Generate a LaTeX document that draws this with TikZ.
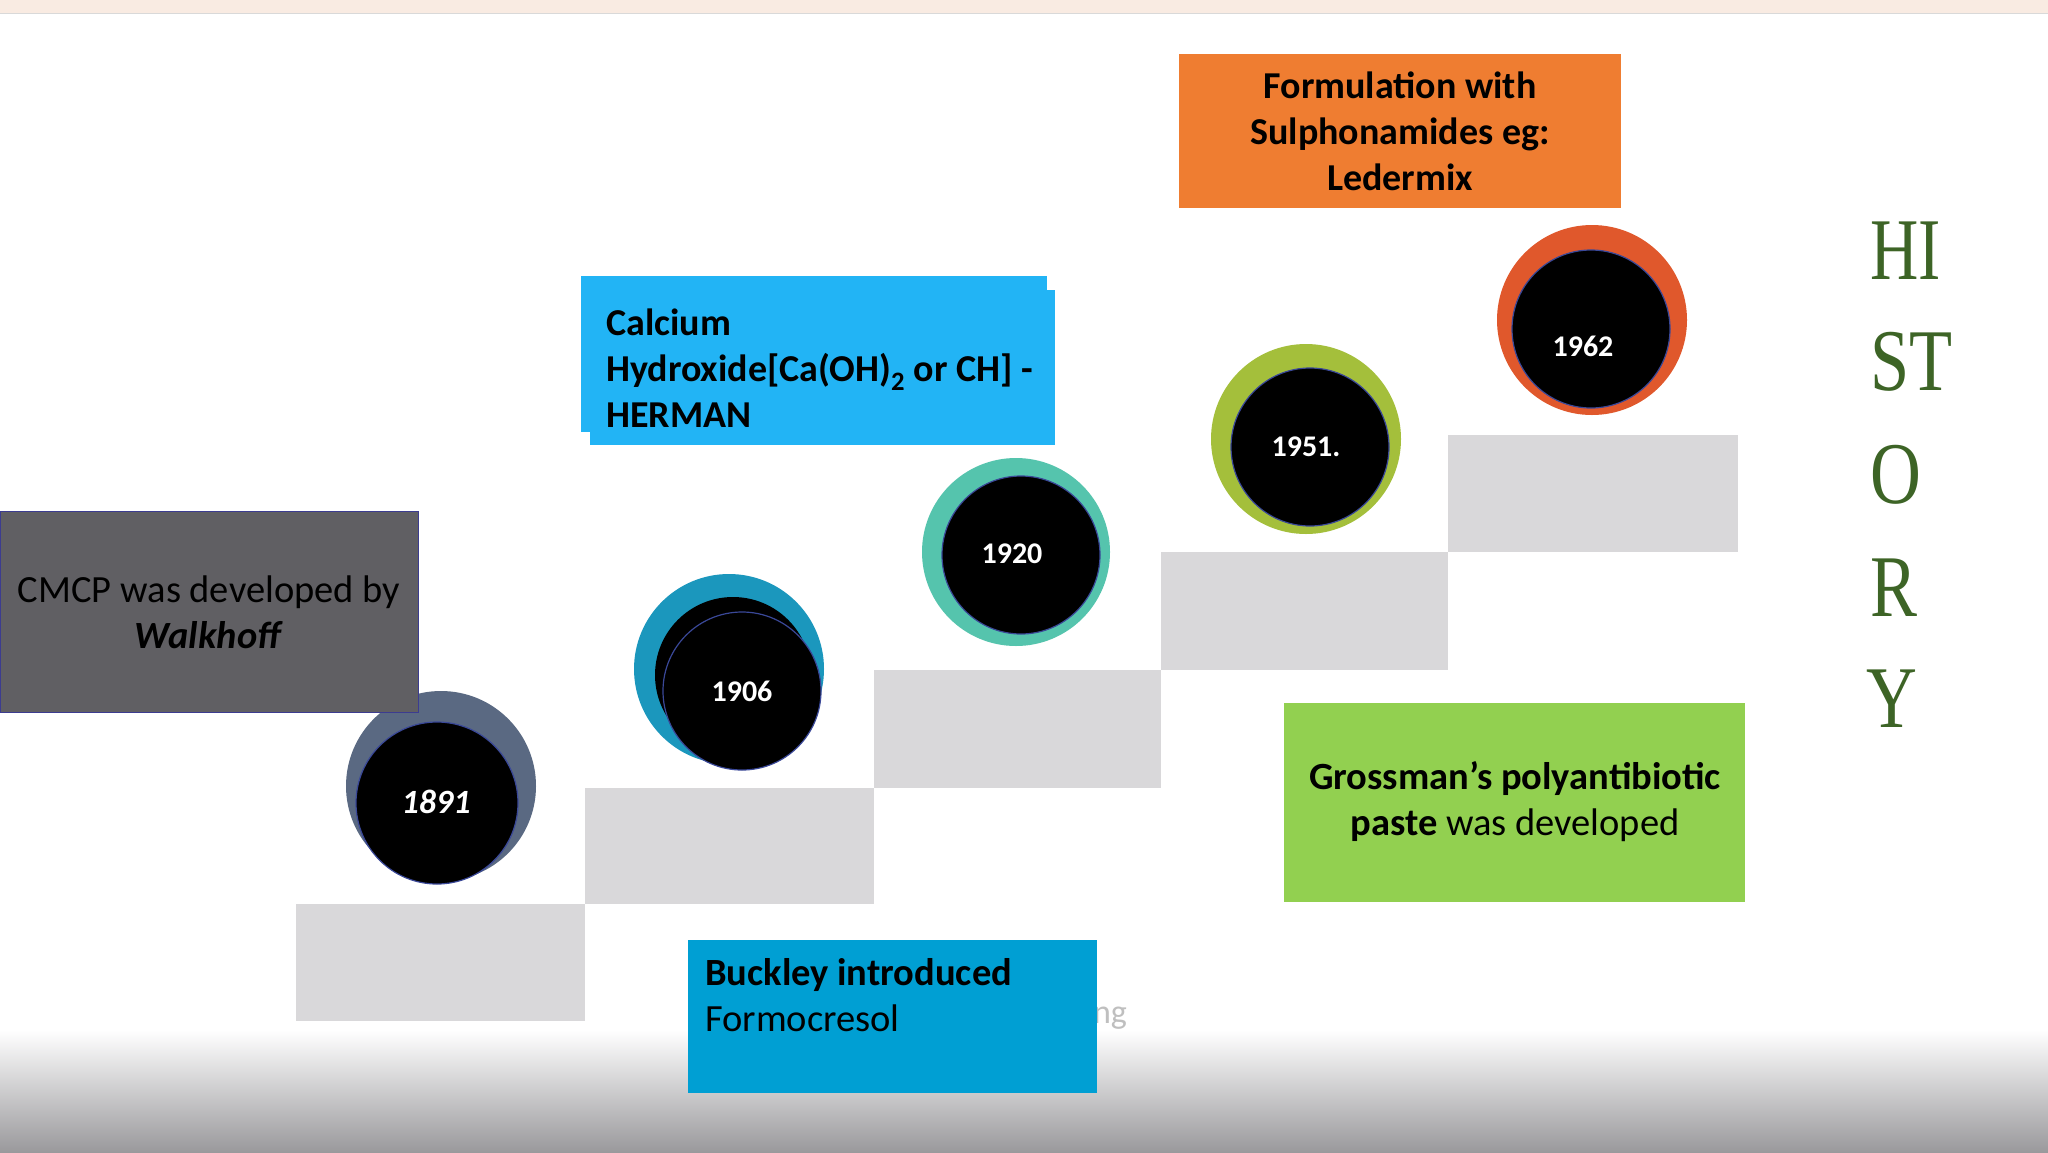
\documentclass[tikz,border=0pt]{standalone}
\usepackage{fontspec}
\setmainfont{Carlito}
\newfontfamily\histfont{Liberation Serif}
\definecolor{topstrip}{HTML}{F9EBE2}
\definecolor{stepgrey}{HTML}{D9D8DA}
\definecolor{midgrey}{HTML}{D4D4D5}
\definecolor{bottomgrey}{HTML}{9A999C}
\definecolor{discedge}{HTML}{3A4898}
\definecolor{ringslate}{HTML}{5A6982}
\definecolor{ringteal}{HTML}{1B97BD}
\definecolor{ringaqua}{HTML}{55C4AD}
\definecolor{ringlime}{HTML}{A4BF3B}
\definecolor{ringorange}{HTML}{E0582C}
\definecolor{cmcpgrey}{HTML}{605F63}
\definecolor{cmcpedge}{HTML}{3C3C90}
\definecolor{skyblue}{HTML}{22B4F5}
\definecolor{orangebox}{HTML}{EF7D31}
\definecolor{greenbox}{HTML}{92D050}
\definecolor{deepblue}{HTML}{009FD3}
\definecolor{histgreen}{HTML}{3D6426}
\tikzset{
  stepbox/.style={fill=stepgrey, draw=none},
  ring/.style={circle, fill=#1, draw=none, inner sep=0pt, minimum size=190pt},
  disc/.style={circle, fill=black, draw=discedge, line width=1.2pt, inner sep=0pt, minimum size=#1},
  yeartext/.style={text=white, font=\fontsize{30}{36}\selectfont\bfseries, inner sep=0pt},
  boxshape/.style={rectangle, draw=none, inner sep=0pt, anchor=north west},
  boxtext/.style={text=black, font=\fontsize{38.5}{46}\selectfont, inner sep=0pt},
  histletter/.style={text=histgreen, font=\histfont\fontsize{88}{90}\selectfont, anchor=west, inner sep=0pt},
}
\begin{document}
\begin{tikzpicture}[x=1pt,y=-1pt]
\useasboundingbox (0,0) rectangle (2048,1152);
\fill[white] (0,0) rectangle (2048,1152);
% top strip
\fill[topstrip] (0,0) rectangle (2048,13);
\draw[black!15, line width=1pt] (0,13.5) -- (2048,13.5);
% bottom gradient
\shade[top color=white, middle color=midgrey, bottom color=bottomgrey] (0,1030) rectangle (2048,1152);

% steps
\fill[stepbox] (296,904) rectangle (585,1021);
\fill[stepbox] (585,788) rectangle (874,904);
\fill[stepbox] (874,670) rectangle (1161,788);
\fill[stepbox] (1161,552) rectangle (1448,670);
\fill[stepbox] (1448,435) rectangle (1738,552);

% circles
\node[ring=ringslate] (o1891) at (441,786) {};
\node[disc=162pt] (d1891) at (437,803) {};
\node[ring=ringteal] (o1906) at (729,669) {};
\node[disc=156pt, draw=none] (b1906) at (733,675) {};
\node[disc=158pt] (d1906) at (742,691) {};
\node[ring=ringaqua, minimum size=188pt] (o1920) at (1016,552) {};
\node[disc=158pt] (d1920) at (1021,555) {};
\node[ring=ringlime] (o1951) at (1306,439) {};
\node[disc=158pt] (d1951) at (1310,447) {};
\node[ring=ringorange] (o1962) at (1592,320) {};
\node[disc=158pt] (d1962) at (1591,329) {};

\node[yeartext, font=\fontsize{34}{38}\selectfont\bfseries\itshape] (t1891) at (436,802) {1891};
\node[yeartext] (t1906) at (742,691) {1906};
\node[yeartext] (t1920) at (1012,554) {1920};
\node[yeartext] (t1951) at (1306,447) {1951.};
\node[yeartext] (t1962) at (1583,346) {1962};

% CMCP box
\node[boxshape, fill=cmcpgrey, draw=cmcpedge, line width=1pt, minimum width=418pt, minimum height=201pt] (cmcp) at (0,511) {};
\node[boxtext, align=center] (cmcptext) at (209,612) {CMCP was developed by\\\textbf{\textit{Walkhoff}}};

% Calcium hydroxide box (two overlapping panels)
\node[boxshape, fill=skyblue, minimum width=466pt, minimum height=156pt] (cha) at (581,276) {};
\node[boxshape, fill=skyblue, minimum width=465pt, minimum height=155pt] (chb) at (590,290) {};
\node[boxtext, anchor=west, align=left, font=\fontsize{38}{46}\selectfont\bfseries] (chtext) at (606,368) {Calcium\\Hydroxide[Ca(OH)\textsubscript{2} or CH] -\\HERMAN};

% Orange box
\node[boxshape, fill=orangebox, minimum width=442pt, minimum height=154pt] (ledbox) at (1179,54) {};
\node[boxtext, align=center, font=\fontsize{38}{46}\selectfont\bfseries] (ledtext) at (1400,131) {Formulation with\\Sulphonamides eg:\\Ledermix};

% Green box
\node[boxshape, fill=greenbox, minimum width=461pt, minimum height=199pt] (grbox) at (1284,703) {};
\node[boxtext, align=center] (grtext) at (1515,802) {\textbf{Grossman’s polyantibiotic}\\\textbf{paste} was developed};

% faint text fragment behind Buckley box
\node[text=black!25, font=\fontsize{34}{38}\selectfont, inner sep=0pt] (frag) at (1110,1018) {ng};

% Buckley box
\node[boxshape, fill=deepblue, minimum width=409pt, minimum height=153pt] (bkbox) at (688,940) {};
\node[boxtext, anchor=west, align=left] (bktext) at (705,995) {\textbf{Buckley introduced}\\Formocresol};

% HISTORY
\node[histletter] (hHI) at (1870,251) {\scalebox{0.76}[1]{HI}};
\node[histletter] (hST) at (1870,362) {\scalebox{0.8}[1]{ST}};
\node[histletter] (hO) at (1870,475) {\scalebox{0.8}[1]{O}};
\node[histletter] (hR) at (1870,588) {\scalebox{0.8}[1]{R}};
\node[histletter] (hY) at (1866,699) {\scalebox{0.8}[1]{Y}};
\end{tikzpicture}
\end{document}
